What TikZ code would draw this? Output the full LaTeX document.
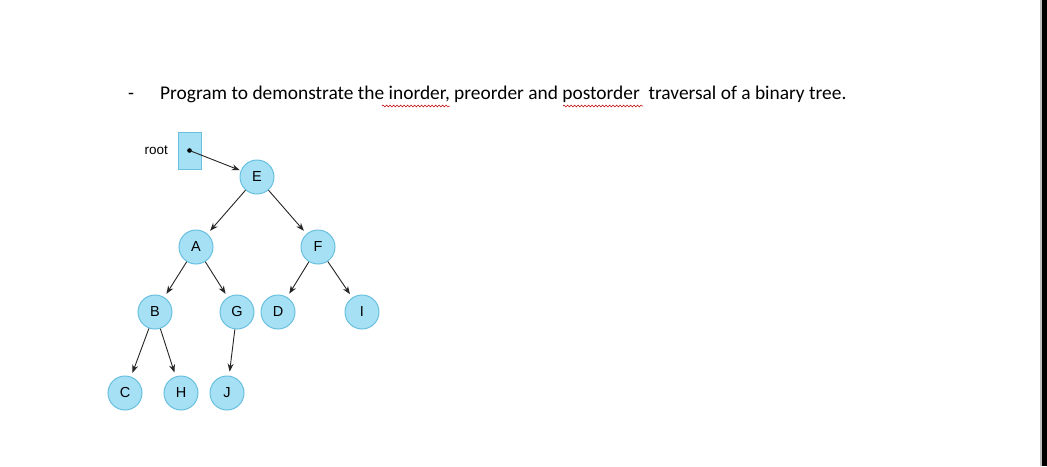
\documentclass[tikz,border=0pt]{standalone}
\usepackage{fontspec}
\setmainfont{Carlito}
\newfontfamily\treefont{Liberation Sans}
\usetikzlibrary{calc}
\usetikzlibrary{positioning}
\usetikzlibrary{arrows.meta}
\usetikzlibrary{decorations.pathmorphing}

\definecolor{nodeblue}{RGB}{166,224,245}
\definecolor{nodeline}{RGB}{105,192,222}

\begin{document}
\begin{tikzpicture}[x=1pt, y=-1pt, >={Stealth[length=8pt,width=6pt]},
  tnode/.style={circle, draw=nodeline, fill=nodeblue, line width=1pt, minimum size=34pt, inner sep=0pt, font=\treefont\fontsize{14.5}{14.5}\selectfont},
  tedge/.style={->, line width=0.9pt, black!85, shorten >=4pt},
  squiggle/.style={red!75!black, line width=0.5pt, decorate, decoration={snake, amplitude=1pt, segment length=3.5pt}}]
\useasboundingbox (0,0) rectangle (1047,466);
\fill[white] (0,0) rectangle (1047,466);
\fill[black!25] (1040,0) rectangle (1042,466);
\fill[black] (1042,0) rectangle (1047,466);

\node[name=dash, anchor=base, font=\fontsize{19.4}{19.4}\selectfont] at (131,99) {-};
\node[name=title, anchor=base west, inner sep=0pt, font=\fontsize{19.4}{19.4}\selectfont] at (160,99)
  {Program to demonstrate the inorder, preorder and postorder~ traversal of a binary tree.};
\draw[squiggle] (382,106) -- (450,106);
\draw[squiggle] (563,106) -- (643,106);

\node[name=rootbox, draw=nodeline, fill=nodeblue, line width=1pt, minimum width=23pt, minimum height=37pt, inner sep=0pt] at (189.5,150.5) {};
\node[name=rootlbl, left=6pt of rootbox, font=\treefont\fontsize{13.5}{13.5}\selectfont] {root};
\coordinate (rootdot) at (rootbox.center);
\fill (rootdot) circle (2.3pt);

\node[tnode, name=E] at (257,177) {E};
\node[tnode, name=A] at (196,247) {A};
\node[tnode, name=F] at (318,247) {F};
\node[tnode, name=B] at (155,312) {B};
\node[tnode, name=G] at (237,312) {G};
\node[tnode, name=D] at (278,312) {D};
\node[tnode, name=I] at (362,312) {I};
\node[tnode, name=C] at (125,393) {C};
\node[tnode, name=H] at (181,393) {H};
\node[tnode, name=J] at (227,393) {J};

\draw[tedge, shorten >=1pt] (rootdot) -- (E);
\draw[tedge] (E) -- (A);
\draw[tedge] (E) -- (F);
\draw[tedge] (A) -- (B);
\draw[tedge] (A) -- (G);
\draw[tedge] (F) -- (D);
\draw[tedge] (F) -- (I);
\draw[tedge] (B) -- (C);
\draw[tedge] (B) -- (H);
\draw[tedge] (G) -- (J);
\end{tikzpicture}
\end{document}
